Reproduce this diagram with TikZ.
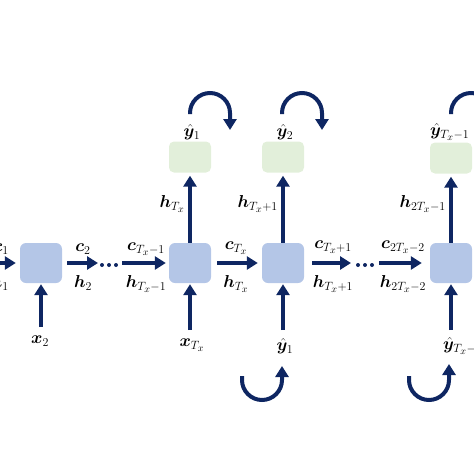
\documentclass[tikz,border=0pt]{standalone}
\usepackage{amsmath,bm}
\usetikzlibrary{arrows.meta}
\definecolor{navy}{RGB}{14,38,98}
\definecolor{cellblue}{RGB}{180,198,231}
\definecolor{outgreen}{RGB}{226,239,218}
\begin{document}
\begin{tikzpicture}[x=1pt,y=-1pt,
 cell/.style={fill=cellblue, rounded corners=6pt, minimum width=42pt, minimum height=40pt, inner sep=0pt},
 outbox/.style={fill=outgreen, rounded corners=5pt, minimum width=42pt, minimum height=31pt, inner sep=0pt},
 arr/.style={draw=navy, line width=4pt, -{Triangle[length=11pt,width=13pt]}},
 lbl/.style={font=\LARGE, inner sep=1pt, text=black},
 dotc/.style={circle, fill=navy, inner sep=0pt, minimum size=4pt}]
\useasboundingbox (0,0) rectangle (474,474);
\clip (0,0) rectangle (474,474);
% cells
\node[cell] (b1) at (41,263) {};
\node[cell] (b2) at (190,263) {};
\node[cell] (b3) at (283,263) {};
\node[cell] (b4) at (451,263) {};
\node[outbox] (g2) at (190,157) {};
\node[outbox] (g3) at (283,157) {};
\node[outbox] (g4) at (451,158) {};
% vertical arrows to outputs
\draw[arr, shorten >=3pt] (b2.north) -- (g2.south);
\draw[arr, shorten >=3pt] (b3.north) -- (g3.south);
\draw[arr, shorten >=3pt] (b4.north) -- (g4.south);
% input arrows
\coordinate (i1) at (41,327);
\coordinate (i2) at (190,330);
\coordinate (i3) at (283,330);
\coordinate (i4) at (451,330);
\draw[arr, shorten >=1pt] (i1) -- (b1.south);
\draw[arr, shorten >=1pt] (i2) -- (b2.south);
\draw[arr, shorten >=1pt] (i3) -- (b3.south);
\draw[arr, shorten >=1pt] (i4) -- (b4.south);
% horizontal arrows
\coordinate (l0) at (-20,263);
\draw[arr, shorten >=4pt] (l0) -- (b1.west);
\coordinate (d1a) at (98,263);
\draw[arr, shorten <=5pt] (b1.east) -- (d1a);
\node[dotc] (p1) at (102,265) {};
\node[dotc] (p2) at (109,265) {};
\node[dotc] (p3) at (116,265) {};
\coordinate (d1b) at (122,263);
\draw[arr, shorten >=3pt] (d1b) -- (b2.west);
\draw[arr, shorten <=6pt, shorten >=4pt] (b2.east) -- (b3.west);
\coordinate (d2a) at (351,263);
\draw[arr, shorten <=8pt] (b3.east) -- (d2a);
\node[dotc] (p4) at (358,265) {};
\node[dotc] (p5) at (365,265) {};
\node[dotc] (p6) at (372,265) {};
\coordinate (d2b) at (379,263);
\draw[arr, shorten >=8pt] (d2b) -- (b4.west);
% labels on horizontal arrows
\node[lbl, anchor=east] (c1) at (10,249) {$\bm{c}_1$};
\node[lbl, anchor=east] (h1) at (10,283) {$\bm{h}_1$};
\node[lbl] (c2) at (83,249) {$\bm{c}_2$};
\node[lbl] (h2) at (83,283) {$\bm{h}_2$};
\node[lbl] (cTm) at (146,249) {$\bm{c}_{T_x-1}$};
\node[lbl] (hTm) at (146,284) {$\bm{h}_{T_x-1}$};
\node[lbl] (cT) at (236,248) {$\bm{c}_{T_x}$};
\node[lbl] (hT) at (236,284) {$\bm{h}_{T_x}$};
\node[lbl] (cTp) at (333,247) {$\bm{c}_{T_x+1}$};
\node[lbl] (hTp) at (333,284) {$\bm{h}_{T_x+1}$};
\node[lbl] (c2T) at (403,247) {$\bm{c}_{2T_x-2}$};
\node[lbl] (h2T) at (403,284) {$\bm{h}_{2T_x-2}$};
% labels on vertical arrows
\node[lbl, anchor=east] (vh1) at (186,204) {$\bm{h}_{T_x}$};
\node[lbl, anchor=east] (vh2) at (279,204) {$\bm{h}_{T_x+1}$};
\node[lbl, anchor=east] (vh3) at (447,204) {$\bm{h}_{2T_x-1}$};
% input labels
\node[lbl] (x2) at (40,341) {$\bm{x}_2$};
\node[lbl] (xT) at (192,345) {$\bm{x}_{T_x}$};
\node[lbl] (yin1) at (285,346) {$\hat{\bm{y}}_1$};
\node[lbl, anchor=west] (yin2) at (442,346) {$\hat{\bm{y}}_{T_x-2}$};
% output labels
\node[lbl] (y1) at (192,132) {$\hat{\bm{y}}_1$};
\node[lbl] (y2) at (285,132) {$\hat{\bm{y}}_2$};
\node[lbl, anchor=west] (y3) at (429,132) {$\hat{\bm{y}}_{T_x-1}$};
% top feedback arcs
\draw[arr] (190,114) -- (190,113) .. controls (190,102) and (199,93) .. (210,93)
  .. controls (221,93) and (230,102) .. (230,113) -- (230,130);
\draw[arr] (282,114) -- (282,113) .. controls (282,102) and (291,93) .. (302,93)
  .. controls (313,93) and (322,102) .. (322,113) -- (322,130);
\draw[arr] (451,114) -- (451,113) .. controls (451,102) and (460,93) .. (471,93)
  .. controls (482,93) and (491,102) .. (491,113) -- (491,130);
% bottom feedback arcs
\draw[arr] (242,376) -- (242,380) .. controls (242,391) and (251,400) .. (262,400)
  .. controls (273,400) and (282,391) .. (282,380) -- (282,366);
\draw[arr] (409,376) -- (409,380) .. controls (409,391) and (418,400) .. (429,400)
  .. controls (440,400) and (449,391) .. (449,380) -- (449,364);
\end{tikzpicture}
\end{document}
